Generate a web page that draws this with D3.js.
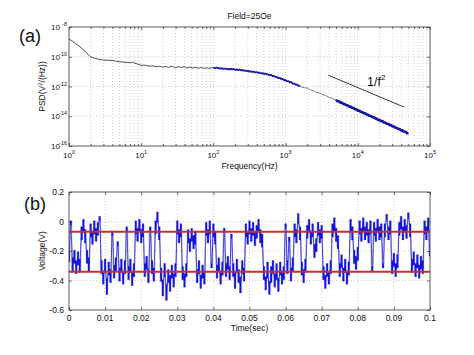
<!DOCTYPE html>
<html><head><meta charset="utf-8">
<script src="https://cdn.jsdelivr.net/npm/d3@7"></script>
<style>body{margin:0;background:#fff}text{font-family:"Liberation Sans",Arial,sans-serif;fill:#111}</style>
</head><body><svg id="c" width="474" height="355"></svg>
<script>
// ---------- DATA ----------
const titleA = "Field=25Oe";
const xLabelA = "Frequency(Hz)";
const xLabelB = "Time(sec)";
const yLabelB = "Voltage(V)";
const xTickExpA = [0,1,2,3,4,5];
const yTickExpA = [-8,-10,-12,-14,-16];
const xTicksB = [0,0.01,0.02,0.03,0.04,0.05,0.06,0.07,0.08,0.09,0.1];
const xTickLabelsB = ["0","0.01","0.02","0.03","0.04","0.05","0.06","0.07","0.08","0.09","0.1"];
const yTicksB = [0.2,0,-0.2,-0.4,-0.6];
const yTickLabelsB = ["0.2","0","-0.2","-0.4","-0.6"];

// PSD, low-frequency part (frequency in Hz, log10 of PSD)
const psdFreqLow = [1,1.2,1.42,1.7,1.95,2.2,2.5,3,3.5,4,4.5,5,6,7,7.5,8,9,10,11,12,13,14.7,16,18,20,22,24,26,28,30,33,36,40,43,47,52,57,62,68,74,80,88,95,100];
const psdLogLow = [-8.81,-9.06,-9.33,-9.66,-9.98,-10.08,-10.15,-10.22,-10.24,-10.25,-10.30,-10.33,-10.37,-10.40,-10.36,-10.42,-10.50,-10.58,-10.56,-10.60,-10.63,-10.62,-10.66,-10.64,-10.70,-10.66,-10.72,-10.63,-10.69,-10.74,-10.66,-10.72,-10.67,-10.75,-10.70,-10.76,-10.71,-10.77,-10.72,-10.79,-10.74,-10.78,-10.73,-10.76];
// PSD, 100 Hz - 1.6 kHz (dense, noisy)
const psdFreqMid = [100,105,110,115,120,126,132,138,145,151,158,166,174,182,191,200,209,219,229,240,251,263,275,288,302,316,331,347,363,380,398,417,437,457,479,501,525,550,575,603,631,661,692,724,759,794,832,871,912,955,1000,1047,1096,1148,1202,1259,1318,1380,1445,1514,1585];
const psdLogMid = [-10.72,-10.80,-10.70,-10.79,-10.74,-10.82,-10.75,-10.85,-10.77,-10.84,-10.79,-10.88,-10.80,-10.86,-10.81,-10.90,-10.83,-10.91,-10.85,-10.93,-10.88,-10.96,-10.90,-10.99,-10.92,-11.02,-10.95,-11.05,-10.98,-11.08,-11.01,-11.10,-11.04,-11.15,-11.08,-11.18,-11.11,-11.22,-11.16,-11.28,-11.20,-11.32,-11.27,-11.38,-11.33,-11.47,-11.39,-11.52,-11.46,-11.60,-11.55,-11.67,-11.62,-11.74,-11.69,-11.84,-11.77,-11.90,-11.85,-11.97,-11.95];
// PSD, 1.6 kHz - 5 kHz (thin)
const psdFreqTrans = [1585,1800,2000,2200,2400,2700,3000,3300,3600,4000,4500,5012];
const psdLogTrans = [-11.98,-12.08,-12.11,-12.23,-12.27,-12.40,-12.44,-12.56,-12.60,-12.74,-12.80,-12.93];
// PSD, 5 kHz - 50 kHz (dense, noisy)
const psdFreqHigh = [5012,5248,5495,5754,6026,6310,6607,6918,7244,7586,7943,8318,8710,9120,9550,10000,10471,10965,11482,12023,12589,13183,13804,14454,15136,15849,16596,17378,18197,19055,19953,20893,21878,22909,23988,25119,26303,27542,28840,30200,31623,33113,34674,36308,38019,39811,41687,43652,45709,47863,50119];
const psdLogHigh = [-12.90,-13.01,-12.98,-13.10,-13.07,-13.19,-13.16,-13.28,-13.25,-13.37,-13.33,-13.46,-13.42,-13.55,-13.51,-13.64,-13.60,-13.72,-13.69,-13.82,-13.77,-13.91,-13.87,-13.99,-13.95,-14.09,-14.04,-14.17,-14.13,-14.27,-14.22,-14.35,-14.30,-14.44,-14.40,-14.53,-14.48,-14.62,-14.57,-14.71,-14.66,-14.80,-14.75,-14.89,-14.83,-14.98,-14.92,-15.07,-15.01,-15.16,-15.12];
// 1/f^2 guide line
const guideFreq = [3900,44000];
const guideLog = [-11.24,-13.39];
const guideLabel = "1/f";

// Random telegraph signal, sampled every 0.5 ms: centre value (V)
const sampleStep = 0.0005;
const voltage = [-0.24,-0.01,-0.29,-0.24,-0.31,-0.25,-0.30,-0.08,-0.03,-0.10,
-0.24,-0.29,-0.06,-0.11,-0.04,-0.09,-0.05,0.02,-0.31,-0.38,
-0.30,-0.44,-0.32,-0.37,-0.08,-0.34,-0.29,-0.15,-0.36,-0.30,
-0.38,-0.31,-0.05,-0.35,-0.30,-0.39,-0.33,-0.04,-0.09,-0.03,
-0.10,-0.06,-0.33,-0.28,-0.37,-0.05,-0.31,-0.36,-0.04,0.03,
-0.08,-0.36,-0.45,-0.33,-0.48,-0.37,-0.42,-0.34,-0.40,-0.33,
-0.04,-0.10,-0.06,-0.35,-0.40,-0.33,-0.10,-0.16,-0.09,-0.14,
-0.11,-0.37,-0.31,-0.41,-0.34,-0.38,-0.05,-0.10,-0.04,-0.30,
-0.06,-0.11,-0.34,-0.29,-0.38,-0.32,-0.06,-0.33,-0.28,-0.35,
-0.10,-0.33,-0.40,-0.30,-0.37,-0.43,-0.31,-0.36,-0.06,-0.11,
-0.04,-0.09,-0.05,-0.12,-0.07,-0.03,-0.10,-0.13,-0.35,-0.42,
-0.33,-0.45,-0.36,-0.31,-0.40,-0.34,-0.43,-0.32,-0.38,-0.35,
-0.03,-0.31,-0.12,-0.36,-0.29,-0.06,-0.10,0.02,-0.08,-0.32,
-0.37,-0.30,-0.07,-0.03,-0.11,-0.06,-0.20,-0.16,-0.05,-0.10,
-0.07,-0.35,-0.41,-0.33,-0.38,-0.31,-0.06,-0.02,-0.09,-0.14,
-0.33,-0.27,-0.36,-0.30,-0.38,-0.32,-0.03,-0.08,-0.24,-0.28,
-0.22,-0.04,-0.09,-0.02,-0.08,-0.05,-0.10,-0.04,-0.32,-0.05,
-0.09,-0.03,-0.08,-0.06,-0.30,-0.06,0.03,-0.08,-0.04,-0.31,
-0.26,-0.33,-0.27,-0.05,-0.01,-0.08,-0.03,-0.07,0.04,-0.06,
-0.30,-0.25,-0.33,-0.27,-0.34,-0.28,-0.31,-0.04,-0.08,-0.02,-0.22];
// half-width of the fast noise band around each sample (V)
const noiseHalf = [0.035,0.015,0.045,0.045,0.045,0.045,0.045,0.045,0.045,0.045,
0.045,0.045,0.045,0.045,0.045,0.045,0.045,0.015,0.045,0.045,
0.045,0.055,0.045,0.045,0.015,0.045,0.045,0.015,0.045,0.045,
0.045,0.045,0.015,0.045,0.045,0.045,0.045,0.045,0.045,0.045,
0.045,0.045,0.045,0.045,0.045,0.015,0.045,0.045,0.045,0.035,
0.045,0.045,0.055,0.045,0.055,0.045,0.055,0.045,0.045,0.045,
0.045,0.045,0.045,0.045,0.045,0.045,0.045,0.045,0.045,0.045,
0.045,0.045,0.045,0.045,0.045,0.045,0.045,0.045,0.045,0.015,
0.045,0.045,0.045,0.045,0.045,0.045,0.015,0.045,0.045,0.045,
0.015,0.045,0.055,0.045,0.045,0.055,0.045,0.045,0.045,0.045,
0.045,0.045,0.045,0.045,0.045,0.045,0.045,0.045,0.045,0.045,
0.055,0.045,0.055,0.045,0.045,0.055,0.045,0.045,0.045,0.045,
0.015,0.045,0.015,0.045,0.045,0.045,0.045,0.035,0.045,0.045,
0.045,0.045,0.045,0.045,0.045,0.045,0.045,0.045,0.045,0.045,
0.045,0.045,0.045,0.045,0.045,0.045,0.045,0.045,0.045,0.045,
0.045,0.045,0.045,0.045,0.045,0.045,0.045,0.045,0.045,0.045,
0.045,0.045,0.045,0.045,0.045,0.045,0.045,0.045,0.015,0.045,
0.045,0.045,0.045,0.045,0.015,0.045,0.02,0.045,0.045,0.045,
0.045,0.045,0.045,0.045,0.045,0.045,0.045,0.045,0.02,0.045,
0.045,0.045,0.045,0.045,0.045,0.045,0.045,0.045,0.045,0.045,0.015];
const stateLevels = [-0.07,-0.34];

// ---------- DRAW ----------
const svg = d3.select("#c");
const A = {l:69,r:430,t:27,b:146};
const B = {l:69,r:430,t:192,b:310};
const gridStyle = g => g.attr("stroke","#b8b8b8").attr("stroke-width",0.7).attr("stroke-dasharray","1,2");

// Panel (a)
const xA = d3.scaleLog().domain([1,1e5]).range([A.l,A.r]);
const yA = d3.scaleLog().domain([1e-16,1e-8]).range([A.b,A.t]);
const gA = svg.append("g");
const xAll = xA.ticks();
gA.append("g").call(gridStyle).selectAll("line").data(xAll.filter(d=>d>1&&d<1e5)).join("line")
  .attr("x1",d=>xA(d)).attr("x2",d=>xA(d)).attr("y1",A.t).attr("y2",A.b);
gA.append("g").call(gridStyle).selectAll("line").data(yTickExpA.slice(1,-1)).join("line")
  .attr("x1",A.l).attr("x2",A.r).attr("y1",d=>yA(Math.pow(10,d))).attr("y2",d=>yA(Math.pow(10,d)));

const isMajor = d => Math.abs(Math.log10(d) - Math.round(Math.log10(d))) < 1e-9;
const axB = d3.axisBottom(xA).tickValues(xAll).tickFormat("").tickSizeOuter(0).tickSizeInner(-3);
const axT = d3.axisTop(xA).tickValues(xAll).tickFormat("").tickSizeOuter(0).tickSizeInner(-3);
const axL = d3.axisLeft(yA).tickValues(yTickExpA.map(e=>Math.pow(10,e))).tickFormat("").tickSizeOuter(0).tickSizeInner(-3);
const axR = d3.axisRight(yA).tickValues(yTickExpA.map(e=>Math.pow(10,e))).tickFormat("").tickSizeOuter(0).tickSizeInner(-3);
[[axB,`translate(0,${A.b})`],[axT,`translate(0,${A.t})`],[axL,`translate(${A.l},0)`],[axR,`translate(${A.r},0)`]].forEach(([ax,tr])=>{
  const g = gA.append("g").attr("transform",tr).call(ax);
  g.select(".domain").remove();
  g.selectAll("line").attr("stroke","#333").attr("stroke-width",0.7);
});
gA.selectAll(".tick").filter(d=>!isMajor(d)).select("line").each(function(){
  const l=d3.select(this); ["x2","y2"].forEach(k=>{const v=+l.attr(k); if(v) l.attr(k, v>0?2:-2);});
});

const xl = gA.append("g").attr("font-size",8).attr("text-anchor","middle");
xTickExpA.forEach(e=>{
  const t = xl.append("text").attr("x",xA(Math.pow(10,e))).attr("y",A.b+12).text("10");
  t.append("tspan").attr("font-size",5.5).attr("dy",-4).text(e);
});
const yl = gA.append("g").attr("font-size",8).attr("text-anchor","end");
yTickExpA.forEach(e=>{
  const y = yA(Math.pow(10,e));
  yl.append("text").attr("x",A.l-9).attr("y",y+3).text("10");
  yl.append("text").attr("x",A.l-2).attr("y",y-1).attr("font-size",5.5).text(e);
});

const lineA = d3.line().x(d=>xA(d[0])).y(d=>yA(Math.pow(10,d[1])));
const smoothA = d3.line().curve(d3.curveBasis).x(d=>xA(d[0])).y(d=>yA(Math.pow(10,d[1])));
const zip = (f,v)=>f.map((x,i)=>[x,v[i]]);
svg.append("clipPath").attr("id","ca").append("rect").attr("x",A.l).attr("y",A.t).attr("width",A.r-A.l).attr("height",A.b-A.t);
const dA = gA.append("g").attr("clip-path","url(#ca)").attr("fill","none").attr("stroke-linejoin","round");
dA.append("path").attr("d",lineA(zip(psdFreqLow,psdLogLow))).attr("stroke","#3a3a4a").attr("stroke-width",0.9);
dA.append("path").attr("d",lineA(zip(psdFreqTrans,psdLogTrans))).attr("stroke","#5a5f98").attr("stroke-width",0.8);
dA.append("path").attr("d",smoothA(zip(psdFreqMid,psdLogMid))).attr("stroke","#1a1aa8").attr("stroke-width",1.8);
dA.append("path").attr("d",lineA(zip(psdFreqMid,psdLogMid))).attr("stroke","#1a1aa8").attr("stroke-width",0.9);
dA.append("path").attr("d",smoothA(zip(psdFreqHigh,psdLogHigh))).attr("stroke","#1414a8").attr("stroke-width",2.6);
dA.append("path").attr("d",lineA(zip(psdFreqHigh,psdLogHigh))).attr("stroke","#1414a8").attr("stroke-width",1.1);
gA.append("path").attr("fill","none").attr("d",lineA(zip(guideFreq,guideLog))).attr("stroke","#222").attr("stroke-width",0.9);
const gl = gA.append("text").attr("x",367).attr("y",86).attr("font-size",12.5).text(guideLabel);
gl.append("tspan").attr("font-size",8).attr("dy",-6).text("2");

gA.append("rect").attr("x",A.l).attr("y",A.t).attr("width",A.r-A.l).attr("height",A.b-A.t).attr("fill","none").attr("stroke","#333").attr("stroke-width",0.8);
gA.append("text").attr("x",(A.l+A.r)/2).attr("y",19).attr("text-anchor","middle").attr("font-size",8.5).text(titleA);
gA.append("text").attr("x",(A.l+A.r)/2).attr("y",169).attr("text-anchor","middle").attr("font-size",8.5).text(xLabelA);
const yt = gA.append("text").attr("transform",`translate(45,${(A.t+A.b)/2}) rotate(-90)`).attr("text-anchor","middle").attr("font-size",8.5).text("PSD(V");
yt.append("tspan").attr("font-size",6).attr("dy",-3).text("2");
yt.append("tspan").attr("dy",3).text("/(Hz))");
svg.append("text").attr("x",19).attr("y",42).attr("font-size",18).text("(a)");

// Panel (b)
const xB = d3.scaleLinear().domain([0,0.1]).range([B.l,B.r]);
const yB = d3.scaleLinear().domain([-0.6,0.2]).range([B.b,B.t]);
const gB = svg.append("g");
gB.append("g").call(gridStyle).selectAll("line").data(xTicksB.slice(1,-1)).join("line")
  .attr("x1",d=>xB(d)).attr("x2",d=>xB(d)).attr("y1",B.t).attr("y2",B.b);
gB.append("g").call(gridStyle).selectAll("line").data(yTicksB.slice(1,-1)).join("line")
  .attr("x1",B.l).attr("x2",B.r).attr("y1",d=>yB(d)).attr("y2",d=>yB(d));
[[d3.axisBottom(xB).tickValues(xTicksB),`translate(0,${B.b})`],[d3.axisTop(xB).tickValues(xTicksB),`translate(0,${B.t})`],
 [d3.axisLeft(yB).tickValues(yTicksB),`translate(${B.l},0)`],[d3.axisRight(yB).tickValues(yTicksB),`translate(${B.r},0)`]].forEach(([ax,tr])=>{
  const g = gB.append("g").attr("transform",tr).call(ax.tickFormat("").tickSizeOuter(0).tickSizeInner(-3));
  g.select(".domain").remove();
  g.selectAll("line").attr("stroke","#333").attr("stroke-width",0.7);
});
gB.append("g").attr("font-size",8.5).attr("text-anchor","middle").selectAll("text").data(xTicksB).join("text")
  .attr("x",d=>xB(d)).attr("y",B.b+11).text((d,i)=>xTickLabelsB[i]);
gB.append("g").attr("font-size",8.5).attr("text-anchor","end").selectAll("text").data(yTicksB).join("text")
  .attr("x",B.l-5).attr("y",d=>yB(d)+3).text((d,i)=>yTickLabelsB[i]);

svg.append("clipPath").attr("id","cb").append("rect").attr("x",B.l).attr("y",B.t).attr("width",B.r-B.l).attr("height",B.b-B.t);
const dB = gB.append("g").attr("clip-path","url(#cb)");
const samples = voltage.map((v,i)=>({t:i*sampleStep, v, w:noiseHalf[i]}));
dB.append("path").attr("d",d3.line().x(d=>xB(d.t)).y(d=>yB(d.v))(samples))
  .attr("fill","none").attr("stroke","#6262c8").attr("stroke-width",0.9);
dB.append("path").attr("d",d3.area().curve(d3.curveStep).x(d=>xB(d.t)).y0(d=>yB(d.v-d.w)).y1(d=>yB(d.v+d.w))(samples))
  .attr("fill","#1515dc").attr("stroke","#1515dc").attr("stroke-width",0.3);
gB.append("g").selectAll("line").data(stateLevels).join("line")
  .attr("x1",xB(0)).attr("x2",xB(0.1)).attr("y1",d=>yB(d)).attr("y2",d=>yB(d))
  .attr("stroke","#c43030").attr("stroke-width",2);
gB.append("rect").attr("x",B.l).attr("y",B.t).attr("width",B.r-B.l).attr("height",B.b-B.t).attr("fill","none").attr("stroke","#333").attr("stroke-width",0.8);
gB.append("text").attr("x",(B.l+B.r)/2).attr("y",331).attr("text-anchor","middle").attr("font-size",8.5).text(xLabelB);
gB.append("text").attr("transform",`translate(45,${(B.t+B.b)/2}) rotate(-90)`).attr("text-anchor","middle").attr("font-size",8.5).text(yLabelB);
svg.append("text").attr("x",24).attr("y",210).attr("font-size",18).text("(b)");
</script></body></html>
